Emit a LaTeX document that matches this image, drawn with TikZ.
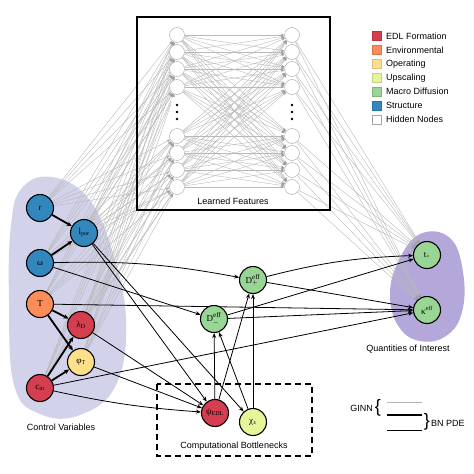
\documentclass[tikz,border=0pt]{standalone}
\usepackage{fontspec}
\setmainfont{Liberation Serif}
\setsansfont{Liberation Sans}
\usetikzlibrary{arrows.meta}
\pgfdeclarelayer{blob}
\pgfdeclarelayer{lines}
\pgfsetlayers{blob,lines,main}
\definecolor{edl}{RGB}{213,62,79}
\definecolor{env}{RGB}{252,141,89}
\definecolor{opr}{RGB}{254,224,139}
\definecolor{ups}{RGB}{230,245,152}
\definecolor{mac}{RGB}{153,213,148}
\definecolor{stru}{RGB}{50,136,189}
\definecolor{blobA}{RGB}{205,205,232}
\definecolor{blobB}{RGB}{172,158,214}
\tikzset{
  var/.style={circle, draw=black, line width=1.1pt, minimum size=27pt, inner sep=0pt, font=\fontsize{9}{10}\selectfont},
  hid/.style={circle, draw=gray!60, fill=white, line width=0.5pt, minimum size=15pt, inner sep=0pt},
  ginn/.style={draw=gray!55, line width=0.4pt, -{Stealth[length=3.5pt,width=2.6pt,color=gray!75]}},
  bn/.style={draw=black, line width=0.8pt, -{Stealth[length=5pt,width=4pt]}},
  bnthick/.style={draw=black, line width=1.8pt, -{Stealth[length=5pt,width=4.5pt]}},
  lbl/.style={font=\sffamily\fontsize{9}{10}\selectfont, inner sep=0pt},
  legsq/.style={minimum size=9pt, inner sep=0pt, line width=0.4pt},
}
\begin{document}
\begin{tikzpicture}[x=1pt,y=-1pt]
\useasboundingbox (0,0) rectangle (474,474);
% blobs
\begin{pgfonlayer}{blob}
\fill[blobA, opacity=0.9] plot[smooth cycle, tension=0.7] coordinates {(22,188) (52,177) (88,198) (112,250) (126,320) (116,385) (80,415) (40,414) (14,385) (9,300) (11,225)};
\fill[blobB, opacity=0.9] plot[smooth cycle, tension=0.7] coordinates {(420,234) (450,238) (463,272) (462,312) (446,336) (420,341) (399,327) (390,296) (398,262)};
\end{pgfonlayer}
% boxes
\draw[line width=1.5pt] (137,17) rectangle (330,210);
\draw[line width=1.5pt, dash pattern=on 6pt off 4pt] (157,384) rectangle (312,456);
% control variable nodes
\node[var, fill=stru] (r) at (40,208) {r};
\node[var, fill=stru] (lp) at (84,233) {l\textsubscript{por}};
\node[var, fill=stru] (w) at (40,263) {ω};
\node[var, fill=env] (T) at (40,304) {T};
\node[var, fill=edl] (lD) at (81,325) {λ\textsubscript{D}};
\node[var, fill=opr] (pT) at (81,362) {φ\textsubscript{T}};
\node[var, fill=edl] (cin) at (40,388) {c\textsubscript{in}};
% macro nodes
\node[var, fill=mac] (Dp) at (253,280) {$\hbox{D}^{\hbox{\scriptsize eff}}_{+}$};
\node[var, fill=mac] (Dm) at (214,319) {$\hbox{D}^{\hbox{\scriptsize eff}}_{\lower1.2pt\hbox{$\scriptstyle-$}}$};
\node[var, fill=edl] (psi) at (215,413) {ψ\textsubscript{EDL}};
\node[var, fill=ups] (chi) at (253,422) {χ\textsubscript{±}};
\node[var, fill=mac] (tp) at (427,255) {t\textsubscript{+}};
\node[var, fill=mac] (ka) at (427,310) {κ\textsuperscript{eff}};
% hidden nodes
\foreach \i/\y in {1/35,2/52,3/69,4/87,5/136,6/153,7/170,8/187}{
  \node[hid] (h\i) at (177,\y) {};
  \node[hid] (g\i) at (292,\y) {};
}
\foreach \x in {177,292}{
  \node[fill=white, rounded corners=3pt, minimum width=12pt, minimum height=30pt, inner sep=0pt] at (\x,112) {};
  \foreach \y in {105,112,119} \fill (\x,\y) circle (1.3pt);
}
% gray GINN connections and BN edges behind nodes
\begin{pgfonlayer}{lines}
\foreach \s in {r,lp,w,T,lD,pT,cin}{
  \foreach \i in {1,...,8}{ \draw[ginn] (\s) -- (h\i); }
}
\foreach \i in {1,...,8}{
  \foreach \j in {1,...,8}{ \draw[ginn] (h\i) -- (g\j); }
  \draw[ginn] (g\i) -- (tp);
  \draw[ginn] (g\i) -- (ka);
}
\draw[bnthick] (r) -- (lp);
\draw[bnthick] (w) -- (lp);
\draw[bnthick] (T) -- (lD);
\draw[bnthick] (T) -- (pT);
\draw[bnthick] (cin) -- (lD);
\draw[bnthick] (cin) -- (pT);
\draw[bn] (w) to[bend left=6] (Dp);
\draw[bn] (w) -- (Dm);
\draw[bn] (T) -- (ka);
\draw[bn] (lp) -- (psi);
\draw[bn] (lp) -- (chi);
\draw[bn] (lD) -- (psi);
\draw[bn] (pT) -- (psi);
\draw[bn] (cin) to[bend right=4] (psi);
\draw[bn] (cin) -- (ka);
\draw[bn] (psi) -- (Dm);
\draw[bn] (psi) -- (Dp);
\draw[bn] (chi) -- (Dp);
\draw[bn] (chi) -- (Dm);
\draw[bn] (Dp) to[bend left=6] (tp);
\draw[bn] (Dp) -- (ka);
\draw[bn] (Dm) -- (tp);
\draw[bn] (Dm) -- (ka);
\end{pgfonlayer}
% labels
\node[lbl] (lf) at (233,201) {Learned Features};
\node[lbl] (cv) at (61,427) {Control Variables};
\node[lbl] (qi) at (408,349) {Quantities of Interest};
\node[lbl] (cb) at (234,446) {Computational Bottlenecks};
% legend
\foreach \c/\t [count=\k from 0] in {edl/EDL Formation, env/Environmental, opr/Operating, ups/Upscaling, mac/Macro Diffusion, stru/Structure}{
  \node[legsq, fill=\c, draw=\c!85!black] (sq\k) at (377,36+13.9*\k) {};
  \node[lbl, anchor=west] (lt\k) at (386,36+13.9*\k) {\t};
}
\node[legsq, fill=white, draw=gray!70] (sq6) at (377,119.4) {};
\node[lbl, anchor=west] (lt6) at (386,119.4) {Hidden Nodes};
% line legend
\coordinate (a1) at (387,402); \coordinate (a2) at (422,402);
\coordinate (b1) at (387,415); \coordinate (b2) at (422,415);
\coordinate (c1) at (387,430); \coordinate (c2) at (422,430);
\draw[gray!60, line width=0.5pt] (a1) -- (a2);
\draw[black, line width=1.8pt] (b1) -- (b2);
\draw[black, line width=1pt] (c1) -- (c2);
\node[lbl, anchor=east] (ginn) at (373,408) {GINN};
\node[font=\sffamily\fontsize{18}{18}\selectfont, inner sep=0pt] (br1) at (378,408) {\{};
\node[font=\sffamily\fontsize{18}{18}\selectfont, inner sep=0pt] (br2) at (427,422) {\}};
\node[lbl, anchor=west] (bnpde) at (431,423) {BN PDE};
\end{tikzpicture}
\end{document}
